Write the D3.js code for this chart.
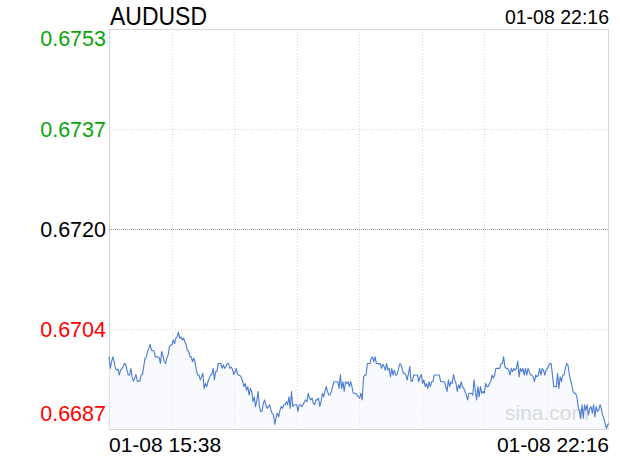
<!DOCTYPE html>
<html>
<head>
<meta charset="utf-8">
<script src="https://cdn.jsdelivr.net/npm/d3@7"></script>
<style>
  html, body { margin: 0; padding: 0; background: #fff; }
  svg { display: block; }
  text { font-family: "Liberation Sans", Arial, Helvetica, sans-serif; }
</style>
</head>
<body>
<svg id="chart" width="620" height="460"></svg>
<script>
// ---------------- DATA ----------------
const symbol = "AUDUSD";
const stampLabel = "01-08 22:16";
const timeLabels = ["01-08 15:38", "01-08 22:16"];
const tickValues = [0.6753, 0.67365, 0.6720, 0.67035, 0.6687];
const tickLabels = ["0.6753", "0.6737", "0.6720", "0.6704", "0.6687"];
const tickKinds  = ["up", "up", "mid", "down", "down"];
const priceRange = [0.6687, 0.6753];

const seg1 = [0.66989,0.66970,0.66981,0.66989,0.66981,0.66970,0.66967,0.66969,0.66959,0.66967,
0.66969,0.66973,0.66978,0.66977,0.66967,0.66959,0.66959,0.66970,0.66956,0.66949,
0.66954,0.66960,0.66949,0.66949,0.66949,0.66959,0.66960,0.66973,0.66987,0.66989,
0.66998,0.67003,0.67010,0.67000,0.66999,0.66999,0.66989,0.66989,0.66989,0.66988,
0.66978,0.66998,0.66991,0.66981,0.66978,0.66987,0.66992,0.67006,0.67008,0.67009,
0.67017,0.67011,0.67020,0.67022,0.67030,0.67020,0.67022,0.67017,0.67020,0.67014,
0.67009,0.66999,0.66999,0.66989,0.66989,0.66981,0.66987,0.66980,0.66967,0.66959,
0.66959,0.66951,0.66956,0.66962,0.66937,0.66945,0.66940,0.66948,0.66954,0.66959];
const seg2 = [0.66960,0.66970,0.66951,0.66965,0.66965,0.66978,0.66978,0.66978,0.66970,0.66976,
0.66970,0.66973,0.66978,0.66978,0.66970,0.66972,0.66969,0.66960,0.66964,0.66970,
0.66960,0.66959,0.66958,0.66955,0.66948,0.66940,0.66945,0.66934,0.66940,0.66926,
0.66937,0.66932,0.66915,0.66923,0.66907,0.66917,0.66932,0.66907,0.66899,0.66899,
0.66912,0.66918,0.66910,0.66904,0.66907,0.66910,0.66901,0.66896,0.66893,0.66878,
0.66889,0.66896,0.66890,0.66901,0.66907,0.66904,0.66910,0.66910,0.66915,0.66910,
0.66923,0.66904,0.66932,0.66907,0.66910,0.66910,0.66910,0.66899,0.66910,0.66910,
0.66907,0.66910,0.66915,0.66918,0.66915,0.66929,0.66921,0.66918,0.66921,0.66912,
0.66910];
const seg3 = [0.66918,0.66918,0.66921,0.66907,0.66915,0.66929,0.66923,0.66932,0.66940,0.66932,
0.66926,0.66926,0.66932,0.66940,0.66948,0.66948,0.66948,0.66948,0.66937,0.66960,
0.66937,0.66948,0.66932,0.66948,0.66945,0.66948,0.66940,0.66948,0.66940,0.66929,
0.66929,0.66929,0.66926,0.66923,0.66921,0.66929,0.66918,0.66956,0.66959,0.66959,
0.66978,0.66978,0.66978,0.66987,0.66989,0.66981,0.66989,0.66978,0.66978,0.66977,
0.66978,0.66970,0.66977,0.66973,0.66967,0.66978,0.66967,0.66970,0.66956,0.66970,
0.66959,0.66967,0.66959,0.66959,0.66967,0.66977,0.66977,0.66970,0.66962,0.66962,
0.66959,0.66951,0.66962,0.66973,0.66949,0.66949,0.66959,0.66959];
const seg4 = [0.66959,0.66959,0.66948,0.66956,0.66960,0.66945,0.66951,0.66940,0.66945,0.66937,
0.66948,0.66940,0.66948,0.66948,0.66959,0.66959,0.66959,0.66959,0.66959,0.66948,
0.66948,0.66948,0.66948,0.66940,0.66932,0.66951,0.66940,0.66948,0.66945,0.66960,
0.66951,0.66945,0.66932,0.66943,0.66937,0.66948,0.66940,0.66937,0.66932,0.66926,
0.66918,0.66929,0.66929,0.66929,0.66926,0.66951,0.66934,0.66918,0.66940,0.66923,
0.66940,0.66929,0.66932,0.66929,0.66945,0.66940,0.66940,0.66945,0.66948,0.66959,
0.66954,0.66959,0.66970,0.66970,0.66970,0.66970,0.66978,0.66978,0.66989,0.66973,
0.66970,0.66970,0.66967,0.66959];
const seg5 = [0.66970,0.66965,0.66970,0.66967,0.66970,0.66982,0.66956,0.66970,0.66965,0.66970,
0.66959,0.66970,0.66959,0.66970,0.66965,0.66959,0.66959,0.66956,0.66948,0.66959,
0.66956,0.66959,0.66970,0.66959,0.66970,0.66967,0.66959,0.66967,0.66970,0.66973,
0.66978,0.66978,0.66959,0.66940,0.66940,0.66940,0.66962,0.66937,0.66956,0.66948,
0.66959,0.66959,0.66970,0.66978,0.66976,0.66962,0.66951,0.66943,0.66932,0.66929,
0.66929,0.66923,0.66907,0.66899,0.66888,0.66910,0.66888,0.66910,0.66901,0.66910,
0.66893,0.66904,0.66907,0.66896,0.66910,0.66890,0.66907,0.66899,0.66901,0.66910,
0.66904,0.66893,0.66888,0.66879,0.66871,0.66877,0.66879];

const prices = [].concat(seg1, seg2, seg3, seg4, seg5);

// ---------------- LAYOUT ----------------
const L = 109, R = 609, T = 29, B = 429;
const vDivisions = 8;
const colors = { up: "#0aa50a", mid: "#000", down: "#f00" };

const svg = d3.select("#chart");

const x = d3.scaleLinear().domain([0, prices.length - 1]).range([L, R]);
const y = d3.scaleLinear().domain(priceRange).range([B, T]);

// background frame
svg.append("rect").attr("x", L + 0.5).attr("y", T + 0.5)
  .attr("width", R - L - 1).attr("height", B - T)
  .attr("fill", "#fff").attr("stroke", "#d8d8d8").attr("stroke-width", 1);

// vertical grid
const vx = d3.scaleLinear().domain([0, vDivisions]).range([L, R]);
svg.append("g").selectAll("line").data(d3.range(1, vDivisions)).join("line")
  .attr("x1", d => Math.round(vx(d)) + 0.5).attr("x2", d => Math.round(vx(d)) + 0.5)
  .attr("y1", T).attr("y2", B)
  .attr("stroke", "#d4d4d4").attr("stroke-dasharray", "1,2");

// horizontal grid
svg.append("g").selectAll("line").data(tickValues.slice(1, 4)).join("line")
  .attr("x1", L).attr("x2", R)
  .attr("y1", d => Math.round(y(d)) + 0.5).attr("y2", d => Math.round(y(d)) + 0.5)
  .attr("stroke", (d, i) => i === 1 ? "#909090" : "#d4d4d4")
  .attr("stroke-dasharray", (d, i) => i === 1 ? "1,1" : "1,2");

// watermark
svg.append("text").attr("x", 505).attr("y", 420)
  .attr("font-size", 21).attr("fill", "#c8c8c8").text("sina.com");

// area + line
const area = d3.area().x((d, i) => x(i)).y0(B).y1(d => y(d));
svg.append("path").datum(prices).attr("d", area)
  .attr("fill", "#eef3fd").attr("opacity", 0.4);

const line = d3.line().x((d, i) => x(i)).y(d => y(d));
svg.append("path").datum(prices).attr("d", line)
  .attr("fill", "none").attr("stroke", "#4a7bd4").attr("stroke-width", 1.1)
  .attr("stroke-linejoin", "round");

// y labels
const labelDy = [17, 8, 8, 8, -8];
svg.append("g").selectAll("text").data(tickValues).join("text")
  .attr("x", L - 3)
  .attr("y", (d, i) => y(d) + labelDy[i])
  .attr("text-anchor", "end")
  .attr("font-size", 21.5)
  .attr("fill", (d, i) => colors[tickKinds[i]])
  .text((d, i) => tickLabels[i]);

// title
svg.append("text").attr("x", L + 1).attr("y", 25)
  .attr("font-size", 25).attr("textLength", 97).attr("lengthAdjust", "spacingAndGlyphs")
  .attr("fill", "#000").text(symbol);

svg.append("text").attr("x", R).attr("y", 24)
  .attr("text-anchor", "end").attr("font-size", 19.5)
  .attr("fill", "#000").text(stampLabel);

// bottom time labels
svg.append("text").attr("x", L).attr("y", 452)
  .attr("font-size", 21).attr("fill", "#000").text(timeLabels[0]);
svg.append("text").attr("x", R).attr("y", 452)
  .attr("text-anchor", "end").attr("font-size", 21).attr("fill", "#000").text(timeLabels[1]);
</script>
</body>
</html>
